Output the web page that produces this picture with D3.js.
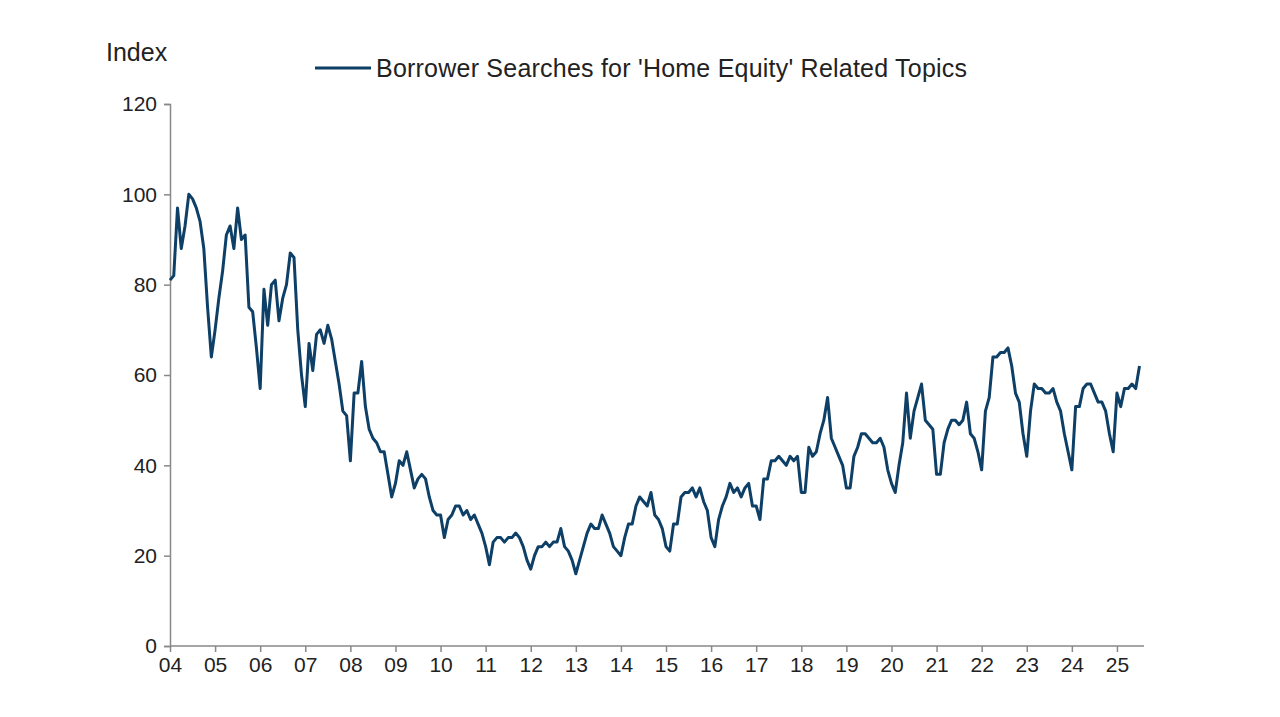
<!DOCTYPE html>
<html><head><meta charset="utf-8">
<script src="https://cdn.jsdelivr.net/npm/d3@7"></script>
<style>body{margin:0;background:#fff}text{font-family:"Liberation Sans",Arial,sans-serif}</style>
</head><body><div id="chart"></div>
<script>
// monthly index, Jan 2004 .. Jul 2025
const years = ["04","05","06","07","08","09","10","11","12","13","14","15","16","17","18","19","20","21","22","23","24","25"]
const values = [
81,82,97,88,93,100,99,97,94,88,75,64,
70,77,83,91,93,88,97,90,91,75,74,66,
57,79,71,80,81,72,77,80,87,86,70,60,
53,67,61,69,70,67,71,68,63,58,52,51,
41,56,56,63,53,48,46,45,43,43,38,33,
36,41,40,43,39,35,37,38,37,33,30,29,
29,24,28,29,31,31,29,30,28,29,27,25,
22,18,23,24,24,23,24,24,25,24,22,19,
17,20,22,22,23,22,23,23,26,22,21,19,
16,19,22,25,27,26,26,29,27,25,22,21,
20,24,27,27,31,33,32,31,34,29,28,26,
22,21,27,27,33,34,34,35,33,35,32,30,
24,22,28,31,33,36,34,35,33,35,36,31,
31,28,37,37,41,41,42,41,40,42,41,42,
34,34,44,42,43,47,50,55,46,44,42,40,
35,35,42,44,47,47,46,45,45,46,44,39,
36,34,40,45,56,46,52,55,58,50,49,48,
38,38,45,48,50,50,49,50,54,47,46,43,
39,52,55,64,64,65,65,66,62,56,54,47,
42,52,58,57,57,56,56,57,54,52,47,43,
39,53,53,57,58,58,56,54,54,52,47,43,
56,53,57,57,58,57,62]
const yTicks = [0,20,40,60,80,100,120]
const seriesName = "Borrower Searches for 'Home Equity' Related Topics"

const W = 1280, H = 717
const svg = d3.select("#chart").append("svg").attr("width", W).attr("height", H)

const x = d3.scaleLinear().domain([0, 21.6]).range([170, 1144])
const y = d3.scaleLinear().domain([0, 120]).range([646, 104])
const axisColor = "#888"

const yAxis = svg.append("g").attr("transform", "translate(170,0)")
  .call(d3.axisLeft(y).tickValues(yTicks).tickSize(6).tickPadding(7))
const xAxis = svg.append("g").attr("transform", "translate(0,646)")
  .call(d3.axisBottom(x).tickValues(d3.range(years.length)).tickFormat(i => years[i]).tickSize(6).tickPadding(5))
xAxis.select(".domain").attr("d", "M170,0H1144")
svg.selectAll(".domain, .tick line").attr("stroke", axisColor).attr("stroke-width", 1.5)
svg.selectAll(".tick text").attr("fill", "#222").style("font-size", "21px")

svg.append("text").attr("x", 106).attr("y", 61).attr("fill", "#222").style("font-size", "25px").text("Index")

svg.append("path")
  .datum(values)
  .attr("fill", "none").attr("stroke", "#0e3f66").attr("stroke-width", 3).attr("stroke-linejoin", "round")
  .attr("d", d3.line().x((d, i) => x(i / 12)).y(d => y(d)))

svg.append("line").attr("x1", 315).attr("x2", 371).attr("y1", 68).attr("y2", 68)
  .attr("stroke", "#0e3f66").attr("stroke-width", 3)
svg.append("text").attr("x", 376).attr("y", 77).attr("fill", "#222").style("font-size", "25px")
  .attr("textLength", 591).text(seriesName)
</script></body></html>
